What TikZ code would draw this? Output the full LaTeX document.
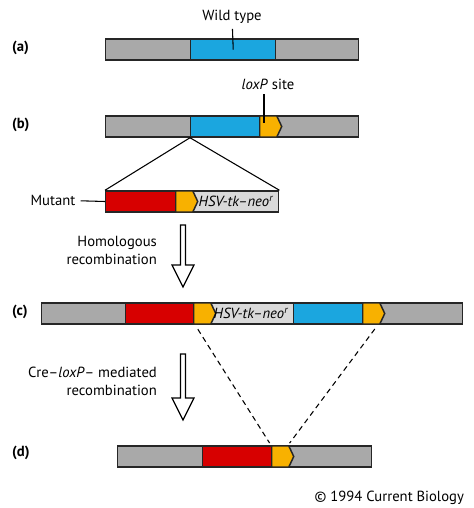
\documentclass[tikz,border=0pt]{standalone}
\usepackage{fontspec}
\setmainfont{PT Sans}[Scale=1.1]
\usetikzlibrary{calc, positioning, shapes.symbols}
\definecolor{bargray}{HTML}{A9A9A9}
\definecolor{neogray}{HTML}{D9D9D9}
\definecolor{wtblue}{HTML}{1BA6DF}
\definecolor{mutred}{HTML}{D70000}
\definecolor{loxorange}{HTML}{F8B100}
\tikzset{
  seg/.style={rectangle, draw=black!85, line width=1.1pt, inner sep=0pt,
    minimum height=15.75pt, minimum width=#1*0.75pt, anchor=west},
  loxp/.style={signal, signal to=east, signal pointer angle=130, draw=black!85,
    line width=1.1pt, fill=loxorange, inner sep=0pt, minimum height=15.75pt,
    minimum width=22*0.75pt, anchor=west},
  rowlabel/.style={font=\bfseries, anchor=west},
  lead/.style={line width=0.8pt},
  blockarrow/.style={line width=0.9pt, fill=white},
}
\begin{document}
\begin{tikzpicture}[x=0.75pt, y=-0.75pt]
\useasboundingbox (0,0) rectangle (474,508);

% (a) wild type
\node[rowlabel] (la) at (7,48) {(a)};
\node[seg=253, fill=bargray] (barA) at (105,49.5) {};
\node[seg=85, fill=wtblue] (blueA) at (190,49.5) {};
\node (wt) at (232,17) {Wild type};
\draw[lead] (wt) -- (blueA.center);

% (b) targeted allele with loxP
\node[rowlabel] (lb) at (7,125) {(b)};
\node[seg=253, fill=bargray] (barB) at (105,126.5) {};
\node[seg=69, fill=wtblue] (blueB) at (190,126.5) {};
\node[loxp] (loxB) at (259,126.5) {};
\node (lox) at (268,84) {\textit{loxP} site};
\coordinate (loxpin) at ($(loxB.west)+(5,-4)$);
\draw[lead] (lox.south -| loxpin) -- (loxpin);

% mutant construct
\node[seg=173, fill=neogray] (barM) at (105,201.5) {};
\node[seg=70, fill=mutred] (redM) at (105,201.5) {};
\node[loxp] (loxM) at (175,201.5) {};
\node[anchor=east, font=\itshape] (neoM) at ($(barM.east)+(-1,0)$) {HSV-tk--neo\textsuperscript{r}};
\node (mut) at (53,200) {Mutant};
\draw[lead] (mut) -- (barM.west);
\draw[lead] (blueB.south west) -- (barM.north west);
\draw[lead] (blueB.south west) -- (barM.north east);

% block arrows
\foreach \top/\head in {225/265, 354/398} {
  \draw[blockarrow] (180.5,\top) -- (180.5,\head) -- (172,\head) -- (183,\head+22)
    -- (194,\head) -- (185.5,\head) -- (185.5,\top) -- cycle;
}
\node[align=right, anchor=east] (hom) at (162,250) {Homologous\\[1.5pt]recombination};
\node[align=right, anchor=east] (cre) at (162,381) {Cre--\textit{loxP}-- mediated\\[1.5pt]recombination};

% (c) after homologous recombination
\node[rowlabel] (lc) at (7,312) {(c)};
\node[seg=421, fill=bargray] (barC) at (41,313.5) {};
\node[seg=68, fill=mutred] (redC) at (125,313.5) {};
\node[seg=100, fill=neogray] (neoC) at (193,313.5) {};
\node[loxp] (loxC1) at (193,313.5) {};
\node[anchor=east, font=\itshape] (neoCt) at ($(neoC.east)+(-1,0)$) {HSV-tk--neo\textsuperscript{r}};
\node[seg=69, fill=wtblue] (blueC) at (293,313.5) {};
\node[loxp] (loxC2) at (362,313.5) {};

% (d) after Cre excision
\node[rowlabel] (ld) at (7,453) {(d)};
\node[seg=254, fill=bargray] (barD) at (117,456.5) {};
\node[seg=69, fill=mutred] (redD) at (202,456.5) {};
\node[loxp] (loxD) at (271,456.5) {};

\draw[lead, dash pattern=on 4pt off 3pt, shorten <=4pt, shorten >=2pt]
  ($(loxC1.south west)+(2,0)$) -- (loxD.north west);
\draw[lead, dash pattern=on 4pt off 3pt, shorten <=4pt, shorten >=2pt]
  ($(loxC2.south west)+(16,0)$) -- ($(loxD.north west)+(17,0)$);

\node[anchor=east] (copy) at (469,498) {\textcopyright{} 1994 Current Biology};
\end{tikzpicture}
\end{document}
